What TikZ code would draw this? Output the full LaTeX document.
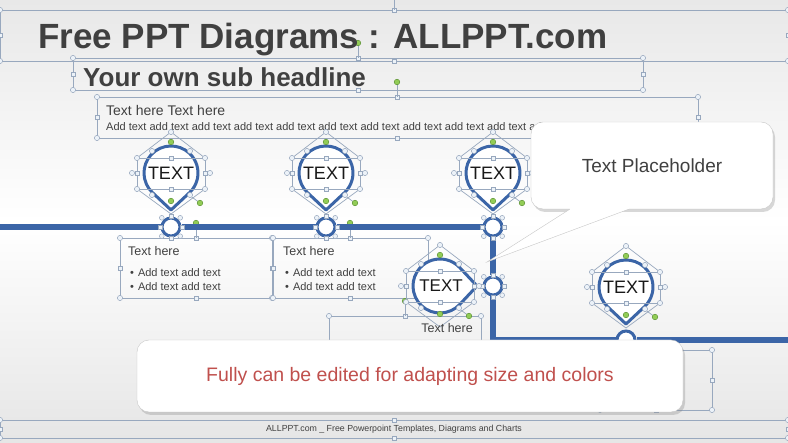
\documentclass[tikz,border=0pt]{standalone}
\usepackage{fontspec}
\setmainfont{Liberation Sans}
\usetikzlibrary{shadows,calc}
\definecolor{pinblue}{RGB}{59,101,167}
\definecolor{framec}{RGB}{152,168,190}
\definecolor{handlefill}{RGB}{236,242,248}
\definecolor{gripgreen}{RGB}{146,204,86}
\definecolor{gripdark}{RGB}{96,150,56}
\definecolor{titlegray}{RGB}{64,64,64}
\definecolor{notered}{RGB}{192,80,77}
\pgfdeclarelayer{back}
\pgfsetlayers{back,main}
\tikzset{frame/.style={draw=framec,line width=0.7pt}}
\tikzset{handle/.style={draw=framec,fill=handlefill,line width=0.5pt}}
\tikzset{grip/.style={draw=gripdark,fill=gripgreen,line width=0.5pt}}
\tikzset{timeline/.style={draw=pinblue,line width=6pt}}
\tikzset{ring/.style={circle,draw=pinblue,line width=3pt,fill=white,minimum size=18pt,inner sep=0pt}}
\tikzset{pinline/.style={draw=pinblue,line width=3pt,fill=white,line join=round}}
\tikzset{pintext/.style={font=\fontsize{18}{18}\selectfont,text=black!90,inner sep=0pt}}
\tikzset{boxtext/.style={anchor=base west,text=titlegray,inner sep=0pt}}
\tikzset{popbox/.style={rounded corners=12pt,draw=black!22,fill=white,
  drop shadow={opacity=0.3,shadow xshift=2pt,shadow yshift=-3pt}}}
\tikzset{droppin/.pic={
  \path[pinline] (133.1:27) arc[start angle=133.1,end angle=406.9,radius=27] -- (0,37) -- cycle;
}}
\tikzset{pinframe/.pic={
  \draw[frame] (-34,-15) rectangle (34,16);
  \draw[frame] (-34,-15) -- (0,-41) -- (34,-15);
  \draw[frame] (-34,16) -- (0,41) -- (34,16);
  \draw[frame] (18,22) -- (29,30);
  \foreach \hx/\hy in {-34/-15,34/-15,-34/16,34/16,0/-41,-19/-22,19/-22,-19/22,19/22,-39/0,39/0}
    {\filldraw[handle] (\hx,\hy) circle[radius=2.6];}
  \foreach \hx/\hy in {0/-15,0/16,-34/0,34/0}
    {\filldraw[handle] (\hx-2,\hy-2) rectangle ++(4,4);}
  \filldraw[grip] (0,-31) circle[radius=2.8];
  \filldraw[grip] (0,28) circle[radius=2.8];
  \filldraw[grip] (29,30) circle[radius=2.8];
}}
\tikzset{ringgrips/.pic={
  \foreach \a in {45,135,225,315} {\filldraw[handle] (\a:13) circle[radius=2.4];}
  \foreach \a in {0,90,180,270} {\filldraw[handle] ($(\a:11)+(-1.8,-1.8)$) rectangle ++(3.6,3.6);}
}}
% selection frame of a placeholder, with its handles
\newcommand{\selframe}[4]{%
  \draw[frame] (#1,#2) rectangle (#3,#4);
  \foreach \hx in {#1,#3} {\foreach \hy in {#2,#4} {\filldraw[handle] (\hx,\hy) circle[radius=2.6];}}
  \pgfmathsetmacro{\mx}{(#1+#3)/2}\pgfmathsetmacro{\my}{(#2+#4)/2}
  \filldraw[handle] (\mx-2,#2-2) rectangle ++(4,4);
  \filldraw[handle] (\mx-2,#4-2) rectangle ++(4,4);
  \filldraw[handle] (#1-2,\my-2) rectangle ++(4,4);
  \filldraw[handle] (#3-2,\my-2) rectangle ++(4,4);
}
\newcommand{\rothandle}[2]{%
  \draw[frame] (#1,#2) -- (#1,#2-15);
  \filldraw[grip] (#1,#2-15) circle[radius=2.8];
}

\begin{document}
\begin{tikzpicture}[x=1pt,y=-1pt]
	\useasboundingbox (0,0) rectangle (788,443);
	\begin{pgfonlayer}{back}
	\shade[top color=black!9,bottom color=black!10,middle color=white] (0,0) rectangle (788,443);
	% placeholder frames
	\selframe{0}{10}{788}{61}
	\selframe{73}{58}{643}{90}
	\selframe{97}{97}{698}{138}
	\selframe{120}{238}{272}{298}
	\selframe{273}{238}{428}{298}
	\selframe{329}{316}{481}{380}
	\selframe{600}{350}{712}{410}
	\selframe{0}{420}{788}{438}
	\draw[frame] (394,0) -- (394,10);
	\rothandle{358}{58}
	\rothandle{397}{97}
	\rothandle{196}{238}
	\rothandle{350}{238}
	\rothandle{405}{316}
	\end{pgfonlayer}

	% headings
	\node[anchor=base west,inner sep=0pt,text=titlegray,font=\fontsize{35}{40}\selectfont\bfseries] (title) at (38,49) {Free PPT Diagrams : ALLPPT.com};
	\node[anchor=base west,inner sep=0pt,text=titlegray,font=\fontsize{26}{30}\selectfont\bfseries] (sub) at (83,87) {Your own sub headline};
	\node[boxtext,font=\fontsize{14}{16}\selectfont] (th) at (106,116) {Text here Text here};
	\node[boxtext,font=\fontsize{11}{13}\selectfont] (tb) at (106,131) {Add text add text add text add text add text add text add text add text add text add text add text};

	% the time line
	\node[ring] (r1) at (171,227) {};
	\node[ring] (r2) at (326,227) {};
	\node[ring] (r3) at (493,227) {};
	\node[ring] (r4) at (493,286) {};
	\node[ring] (r5) at (626,340) {};
	\coordinate (lstart) at (0,227);
	\coordinate (bend) at (493,340);
	\coordinate (lend) at (788,340);
	\begin{pgfonlayer}{back}
	\draw[timeline] (lstart) -- (r1) -- (r2) -- (r3) -- (r4) -- (bend) -- (r5) -- (lend);
	\end{pgfonlayer}
	\foreach \r in {r1,r2,r3,r4} {\pic at (\r) {ringgrips};}

	% pins
	\pic at (171,173) {droppin};
	\pic at (326,173) {droppin};
	\pic at (493,173) {droppin};
	\pic[rotate=90] at (440,286) {droppin};
	\pic at (626,287) {droppin};
	\pic at (171,173) {pinframe};
	\pic at (326,173) {pinframe};
	\pic at (493,173) {pinframe};
	\pic at (440,286) {pinframe};
	\pic at (626,287) {pinframe};
	\node[pintext] (p1) at (171,173) {TEXT};
	\node[pintext] (p2) at (326,173) {TEXT};
	\node[pintext] (p3) at (493,173) {TEXT};
	\node[pintext,font=\fontsize{17}{17}\selectfont] (p4) at (441,286) {TEXT};
	\node[pintext] (p5) at (626,287) {TEXT};

	% text boxes under the line
	\node[boxtext,font=\fontsize{12.5}{15}\selectfont] (h1) at (128,256) {Text here};
	\node[boxtext,font=\fontsize{11}{13}\selectfont] (a1) at (130,277) {•\hspace{4pt}Add text add text};
	\node[boxtext,font=\fontsize{11}{13}\selectfont] (b1) at (130,291) {•\hspace{4pt}Add text add text};
	\node[boxtext,font=\fontsize{12.5}{15}\selectfont] (h2) at (283,256) {Text here};
	\node[boxtext,font=\fontsize{11}{13}\selectfont] (a2) at (285,277) {•\hspace{4pt}Add text add text};
	\node[boxtext,font=\fontsize{11}{13}\selectfont] (b2) at (285,291) {•\hspace{4pt}Add text add text};
	\node[anchor=base east,inner sep=0pt,text=titlegray,font=\fontsize{12.5}{15}\selectfont] (h3) at (473,333) {Text here};

	% callout
	\node[popbox,minimum width=242pt,minimum height=87pt,text=titlegray,font=\fontsize{19}{22}\selectfont] (callout) at (652,165.5) {Text Placeholder};
	\coordinate (tailtip) at (487,262);
	\fill[white] ($(callout.south west)+(39,-5)$) -- ($(callout.south west)+(39,0)$) -- (tailtip) -- ($(callout.south west)+(98,0)$) -- ($(callout.south west)+(98,-5)$) -- cycle;
	\draw[black!22] ($(callout.south west)+(39,0)$) -- (tailtip) -- ($(callout.south west)+(98,0)$);

	% note
	\node[popbox,minimum width=546pt,minimum height=72pt,text=notered,font=\fontsize{19.5}{22}\selectfont] (note) at (410,376) {Fully can be edited for adapting size and colors};

	\node[inner sep=0pt,anchor=base,text=titlegray,font=\fontsize{8.8}{10}\selectfont] (foot) at (394,432) {ALLPPT.com \_ Free Powerpoint Templates, Diagrams and Charts};
\end{tikzpicture}
\end{document}
